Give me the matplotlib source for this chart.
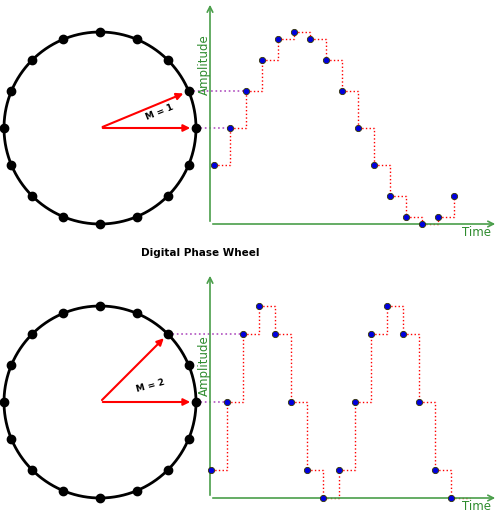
import numpy as np
import matplotlib
matplotlib.use("Agg")
import matplotlib.pyplot as plt

amp_m1 = [-0.383, 0.0, 0.383, 0.707, 0.924, 1.0, 0.924, 0.707, 0.383, 0.0,
          -0.383, -0.707, -0.924, -1.0, -0.924, -0.707]
amp_m2 = [-0.707, 0.0, 0.707, 1.0, 0.707, 0.0, -0.707, -1.0, -0.707, 0.0,
          0.707, 1.0, 0.707, 0.0, -0.707, -1.0]
n_dots = 16
title = "Digital Phase Wheel"

fig = plt.figure(figsize=(5.0, 5.13), dpi=100)
ax = fig.add_axes([0, 0, 1, 1])
ax.set_xlim(0, 500)
ax.set_ylim(513, 0)
ax.axis("off")

green = "#4a9e4a"
tgreen = "#2e8b2e"

def panel(cy, r, amps, m, x0, step, label, lab_xy, lab_rot, ytop, amp_y, tail=None):
    cx = 100
    t = np.linspace(0, 2*np.pi, 400)
    ax.plot(cx + r*np.cos(t), cy + r*np.sin(t), color="black", lw=2, zorder=2)
    a = np.arange(n_dots) * 2*np.pi/n_dots
    ax.plot(cx + r*np.cos(a), cy + r*np.sin(a), "o", color="black", ms=6, zorder=3)
    ang = m * 2*np.pi/n_dots
    for th in (0, ang):
        ex, ey = cx + r*np.cos(th), cy - r*np.sin(th)
        ax.annotate("", xy=(ex - 3*np.cos(th), ey + 3*np.sin(th)), xytext=(cx, cy),
                    arrowprops=dict(arrowstyle="-|>", color="red", lw=1.5,
                                    mutation_scale=10), zorder=4)
    ax.text(*lab_xy, label, rotation=lab_rot, fontsize=6.5, fontweight="bold",
            ha="center", va="center")
    xb = cy + r
    ax.annotate("", xy=(210, ytop), xytext=(210, xb),
                arrowprops=dict(arrowstyle="->", color=green, lw=1.2))
    ax.annotate("", xy=(498, xb), xytext=(210, xb),
                arrowprops=dict(arrowstyle="->", color=green, lw=1.2))
    ax.text(204, amp_y, "Amplitude", rotation=90, color=tgreen,
            fontsize=8.5, ha="center", va="center")
    ax.text(476, xb + 8, "Time", color=tgreen, fontsize=8.5, ha="center", va="center")
    xs = x0 + step*np.arange(len(amps))
    ys = cy - r*np.array(amps)
    for th, idx in ((0, 1), (ang, 2)):
        ax.plot([cx + r*np.cos(th), xs[idx]], [cy - r*np.sin(th)]*2, ":",
                color="#b050c0", lw=1.2, zorder=1)
    for i in range(len(xs) - 1):
        ax.plot([xs[i], xs[i+1], xs[i+1]], [ys[i], ys[i], ys[i+1]], ":",
                color="red", lw=1, zorder=1)
    if tail:
        ax.plot([xs[-1], tail], [ys[-1], ys[-1]], ":", color="red", lw=1, zorder=1)
    ax.plot(xs, ys, "o", color="#0000dd", mec="#333300", mew=0.6, ms=4.5, zorder=5)

panel(128, 96, amp_m1, 1, 214, 16, "M = 1", (160, 112), 22, 2, 65)
ax.text(200, 253, title, fontsize=7.5, fontweight="bold", ha="center", va="center")
panel(402, 96, amp_m2, 2, 211, 16, "M = 2", (150, 386), 15, 273, 366, tail=470)

fig.savefig("out.png", dpi=100)
